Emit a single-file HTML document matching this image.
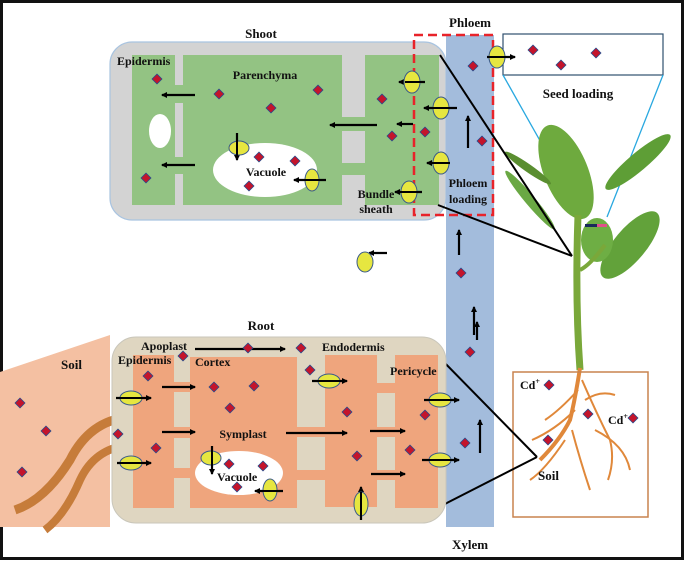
<!DOCTYPE html>
<html><head><meta charset="utf-8"><style>
html,body{margin:0;padding:0;background:#fff;}
svg{display:block;}
text{font-family:"Liberation Serif",serif;font-weight:bold;fill:#111;}
</style></head><body>
<svg width="685" height="563" viewBox="0 0 685 563" xmlns="http://www.w3.org/2000/svg">
<defs>
<marker id="ah" markerWidth="6" markerHeight="6" refX="5" refY="3" orient="auto" markerUnits="userSpaceOnUse"><path d="M0,0 L6,3 L0,6 z" fill="#000"/></marker>
<g id="d"><rect x="-3.5" y="-3.5" width="7" height="7" fill="#c4142b" stroke="#2a4a8a" stroke-width="0.8" transform="rotate(45)"/></g>
</defs>
<rect x="1.5" y="1.5" width="681" height="557" fill="#fff" stroke="#111" stroke-width="3"/>

<!-- Shoot cell -->
<rect x="110" y="42" width="336" height="178" rx="22" fill="#d3d3d3" stroke="#a9c4e0" stroke-width="1.2"/>
<g fill="#93c383">
<rect x="132" y="55" width="43" height="150"/>
<rect x="174" y="85" width="10" height="18"/><rect x="174" y="157" width="10" height="17"/>
<rect x="183" y="55" width="159" height="150"/>
<rect x="341" y="117" width="25" height="14"/><rect x="341" y="163" width="25" height="12"/>
<rect x="365" y="55" width="74" height="150"/>
</g>
<ellipse cx="160" cy="131" rx="11" ry="17" fill="#fff"/>
<ellipse cx="265" cy="170" rx="52" ry="27" fill="#fff"/>
<rect x="446" y="35" width="48" height="492" fill="#a3bcdc"/>
<rect x="414" y="35" width="79" height="180" fill="none" stroke="#e8232a" stroke-width="2.5" stroke-dasharray="9,5"/>

<!-- Seed box -->
<rect x="503" y="34" width="160" height="41" fill="#fff" stroke="#2f4f6f" stroke-width="1.2"/>
<line x1="503" y1="75" x2="583" y2="217" stroke="#29a8e0" stroke-width="1.3"/>
<line x1="663" y1="75" x2="607" y2="217" stroke="#29a8e0" stroke-width="1.3"/>

<!-- plant -->
<g>
<ellipse cx="566" cy="172" rx="22" ry="50" transform="rotate(-22 566 172)" fill="#6eaa3e"/>
<ellipse cx="638" cy="162" rx="9" ry="42" transform="rotate(50 638 162)" fill="#5e9e36"/>
<ellipse cx="530" cy="200" rx="5" ry="38" transform="rotate(-40 530 200)" fill="#6aa844"/>
<ellipse cx="528" cy="168" rx="4" ry="28" transform="rotate(-55 528 168)" fill="#5a8e30"/>
<ellipse cx="630" cy="245" rx="16" ry="42" transform="rotate(40 630 245)" fill="#62a23a"/>
<ellipse cx="597" cy="240" rx="16" ry="22" fill="#6eae44"/>
<path d="M578 215 Q575 300 580 370" stroke="#7aa83a" stroke-width="7" fill="none"/>
<path d="M580 270 Q590 265 605 245" stroke="#7aa83a" stroke-width="4" fill="none"/>
<g stroke="#e0883a" fill="none" stroke-width="2">
<path d="M580 368 Q575 400 570 420 Q560 440 540 460" stroke-width="4"/>
<path d="M582 380 Q595 410 610 440 Q615 460 608 480"/>
<path d="M578 390 Q560 410 545 420"/>
<path d="M575 410 Q555 430 532 440"/>
<path d="M585 400 Q600 390 615 395"/>
<path d="M572 430 Q580 460 590 490"/>
<path d="M565 440 Q545 470 530 480"/>
<path d="M595 430 Q625 445 630 470"/>
</g>
</g>
<rect x="585" y="224" width="22" height="3" fill="#1a2a5a"/><rect x="597" y="224" width="10" height="3" fill="#e0508a"/>
<rect x="513" y="372" width="135" height="145" fill="none" stroke="#c8834e" stroke-width="1.5"/>

<!-- connector lines -->
<g stroke="#000" stroke-width="2">
<line x1="440" y1="55" x2="572" y2="256"/>
<line x1="438" y1="205" x2="572" y2="256"/>
<line x1="437" y1="355" x2="537" y2="457"/>
<line x1="437" y1="508" x2="537" y2="457"/>
</g>

<!-- Soil -->
<polygon points="0,372 110,335 110,527 0,527" fill="#f4c0a2"/>
<path d="M130 417 Q90 420 70 460 Q45 500 15 510" stroke="#c67c3a" stroke-width="9" fill="none"/>
<path d="M130 445 Q95 448 80 480 Q65 515 45 530" stroke="#c67c3a" stroke-width="8" fill="none"/>

<!-- Root cell -->
<rect x="112" y="337" width="334" height="186" rx="24" fill="#dfd6c1" stroke="#c9c6ba" stroke-width="1"/>
<g fill="#efa57d">
<rect x="133" y="355" width="41" height="153"/>
<rect x="173" y="382" width="18" height="10"/><rect x="173" y="427" width="18" height="11"/><rect x="173" y="468" width="18" height="10"/>
<rect x="190" y="357" width="107" height="151"/>
<rect x="296" y="427" width="30" height="10"/><rect x="296" y="470" width="30" height="10"/>
<rect x="325" y="355" width="52" height="152"/>
<rect x="376" y="383" width="20" height="10"/><rect x="376" y="427" width="20" height="10"/><rect x="376" y="470" width="20" height="10"/>
<rect x="395" y="355" width="43" height="153"/>
</g>
<ellipse cx="239" cy="473" rx="44" ry="22" fill="#fff"/>

<!-- arrows -->
<g stroke="#000" stroke-width="2.2" marker-end="url(#ah)" fill="none">
<line x1="195" y1="95" x2="162" y2="95"/>
<line x1="195" y1="165" x2="162" y2="165"/>
<line x1="377" y1="125" x2="330" y2="125"/>
<line x1="413" y1="124" x2="397" y2="124"/>
<line x1="425" y1="82" x2="399" y2="82"/>
<line x1="457" y1="108" x2="424" y2="108"/>
<line x1="450" y1="163" x2="427" y2="163"/>
<line x1="422" y1="192" x2="395" y2="192"/>
<line x1="237" y1="133" x2="237" y2="160"/>
<line x1="326" y1="180" x2="294" y2="180"/>
<line x1="487" y1="57" x2="515" y2="57"/>
<line x1="387" y1="253" x2="369" y2="253"/>
<line x1="468" y1="148" x2="468" y2="116"/>
<line x1="459" y1="255" x2="459" y2="230"/>
<line x1="474" y1="335" x2="474" y2="307"/>
<line x1="480" y1="453" x2="480" y2="420"/>
<line x1="477" y1="340" x2="477" y2="322"/>
<line x1="195" y1="349" x2="285" y2="349"/>
<line x1="162" y1="387" x2="195" y2="387"/>
<line x1="162" y1="432" x2="195" y2="432"/>
<line x1="286" y1="433" x2="347" y2="433"/>
<line x1="370" y1="431" x2="405" y2="431"/>
<line x1="371" y1="474" x2="405" y2="474"/>
<line x1="312" y1="381" x2="347" y2="381"/>
<line x1="424" y1="400" x2="459" y2="400"/>
<line x1="422" y1="460" x2="459" y2="460"/>
<line x1="116" y1="398" x2="151" y2="398"/>
<line x1="117" y1="463" x2="151" y2="463"/>
<line x1="212" y1="446" x2="212" y2="474"/>
<line x1="283" y1="491" x2="255" y2="491"/>
<line x1="361" y1="520" x2="361" y2="487"/>
</g>

<!-- transporters -->
<g fill="#e6e640" stroke="#3a5a8a" stroke-width="1">
<ellipse cx="412" cy="82" rx="8" ry="11"/>
<ellipse cx="441" cy="108" rx="8" ry="11"/>
<ellipse cx="441" cy="163" rx="8" ry="11"/>
<ellipse cx="409" cy="192" rx="8" ry="11"/>
<ellipse cx="239" cy="148" rx="10" ry="7"/>
<ellipse cx="312" cy="180" rx="7" ry="11"/>
<ellipse cx="497" cy="57" rx="8" ry="11"/>
<ellipse cx="365" cy="262" rx="8" ry="10"/>
<ellipse cx="329" cy="381" rx="11" ry="7"/>
<ellipse cx="440" cy="400" rx="11" ry="7"/>
<ellipse cx="440" cy="460" rx="11" ry="7"/>
<ellipse cx="131" cy="398" rx="11" ry="7"/>
<ellipse cx="131" cy="463" rx="11" ry="7"/>
<ellipse cx="211" cy="458" rx="10" ry="7"/>
<ellipse cx="270" cy="490" rx="7" ry="11"/>
<ellipse cx="361" cy="504" rx="7" ry="12"/>
</g>
<g stroke="#000" stroke-width="2" fill="none">
<line x1="425" y1="82" x2="405" y2="82"/><line x1="457" y1="108" x2="430" y2="108"/>
<line x1="450" y1="163" x2="432" y2="163"/><line x1="422" y1="192" x2="400" y2="192"/>
<line x1="237" y1="138" x2="237" y2="158"/><line x1="326" y1="180" x2="300" y2="180"/>
<line x1="487" y1="57" x2="510" y2="57"/><line x1="317" y1="381" x2="342" y2="381"/>
<line x1="428" y1="400" x2="452" y2="400"/><line x1="428" y1="460" x2="452" y2="460"/>
<line x1="118" y1="398" x2="145" y2="398"/><line x1="118" y1="463" x2="145" y2="463"/>
<line x1="212" y1="448" x2="212" y2="470"/><line x1="283" y1="491" x2="260" y2="491"/>
<line x1="361" y1="518" x2="361" y2="492"/>
</g>

<!-- diamonds -->
<g>
<use href="#d" x="157" y="79"/><use href="#d" x="219" y="94"/><use href="#d" x="271" y="108"/><use href="#d" x="318" y="90"/>
<use href="#d" x="382" y="99"/><use href="#d" x="392" y="136"/><use href="#d" x="425" y="132"/><use href="#d" x="146" y="178"/>
<use href="#d" x="259" y="157"/><use href="#d" x="295" y="161"/><use href="#d" x="249" y="186"/><use href="#d" x="473" y="66"/>
<use href="#d" x="482" y="141"/><use href="#d" x="533" y="50"/><use href="#d" x="561" y="65"/><use href="#d" x="596" y="53"/>
<use href="#d" x="461" y="273"/><use href="#d" x="470" y="352"/><use href="#d" x="465" y="443"/>
<use href="#d" x="183" y="356"/><use href="#d" x="248" y="348"/><use href="#d" x="301" y="348"/><use href="#d" x="148" y="376"/>
<use href="#d" x="214" y="387"/><use href="#d" x="254" y="386"/><use href="#d" x="230" y="408"/><use href="#d" x="118" y="434"/>
<use href="#d" x="156" y="448"/><use href="#d" x="20" y="403"/><use href="#d" x="46" y="431"/><use href="#d" x="22" y="472"/>
<use href="#d" x="229" y="464"/><use href="#d" x="263" y="466"/><use href="#d" x="237" y="487"/>
<use href="#d" x="310" y="370"/><use href="#d" x="347" y="412"/><use href="#d" x="357" y="456"/>
<use href="#d" x="425" y="415"/><use href="#d" x="410" y="450"/>
<use href="#d" x="549" y="385"/><use href="#d" x="588" y="414"/><use href="#d" x="548" y="440"/><use href="#d" x="633" y="418"/>
</g>

<!-- labels -->
<g font-size="12">
<text x="261" y="38" text-anchor="middle" font-size="13">Shoot</text>
<text x="470" y="27" text-anchor="middle" font-size="13">Phloem</text>
<text x="117" y="65">Epidermis</text>
<text x="265" y="79" text-anchor="middle">Parenchyma</text>
<text x="266" y="176" text-anchor="middle">Vacuole</text>
<text x="376" y="198" text-anchor="middle">Bundle</text>
<text x="376" y="213" text-anchor="middle">sheath</text>
<text x="468" y="187" text-anchor="middle">Phloem</text>
<text x="468" y="203" text-anchor="middle">loading</text>
<text x="578" y="98" text-anchor="middle" font-size="13">Seed loading</text>
<text x="261" y="330" text-anchor="middle" font-size="13">Root</text>
<text x="141" y="350">Apoplast</text>
<text x="118" y="364">Epidermis</text>
<text x="195" y="366">Cortex</text>
<text x="322" y="351">Endodermis</text>
<text x="390" y="375">Pericycle</text>
<text x="61" y="369" font-size="13">Soil</text>
<text x="243" y="438" text-anchor="middle">Symplast</text>
<text x="217" y="481">Vacuole</text>
<text x="470" y="549" text-anchor="middle" font-size="13">Xylem</text>
<text x="520" y="389">Cd<tspan font-size="8" dy="-5">+</tspan></text>
<text x="608" y="424">Cd<tspan font-size="8" dy="-5">+</tspan></text>
<text x="538" y="480" font-size="13">Soil</text>
</g>
</svg>
</body></html>
